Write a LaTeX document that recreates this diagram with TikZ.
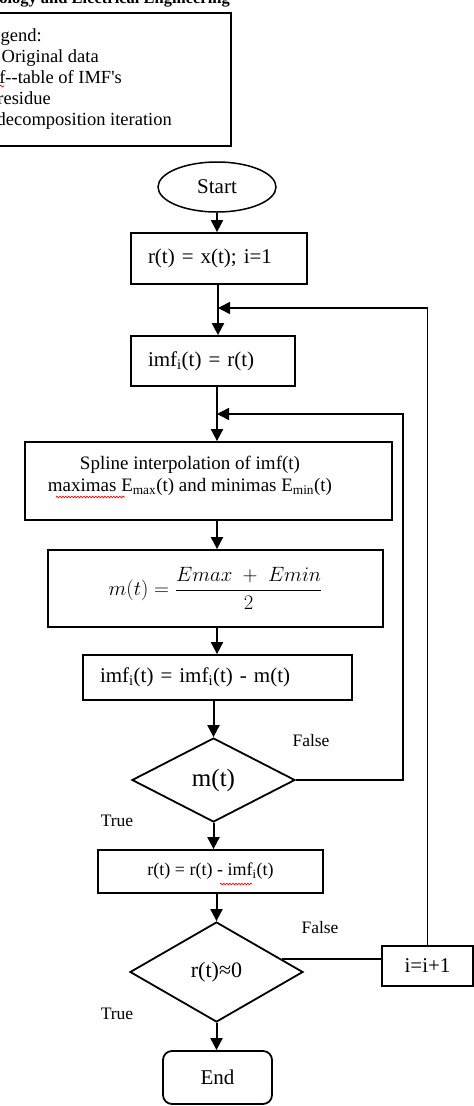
\documentclass[tikz,border=0pt]{standalone}
\usepackage{fontspec}
\setmainfont{Liberation Serif}
\usetikzlibrary{shapes.geometric,arrows.meta,decorations.pathmorphing}
\begin{document}
\begin{tikzpicture}[x=1pt,y=-1pt,
  every node/.style={font=\fontsize{21}{25}\selectfont},
  box/.style={draw,line width=1.8pt,rectangle,inner sep=0pt},
  boxl/.style={box,align=left,inner xsep=17pt,inner ysep=0pt},
  dia/.style={draw,diamond,line width=1.8pt,inner sep=0pt},
  arr/.style={line width=2pt,-{Triangle[length=12pt,width=12pt]}},
  ln/.style={line width=1.6pt},
  lbl/.style={font=\fontsize{17.5}{20}\selectfont,inner sep=0pt},
  leg/.style={font=\fontsize{18.5}{21}\selectfont,inner sep=0pt,anchor=base east},
  squig/.style={red,line width=0.7pt,decorate,decoration={snake,segment length=3pt,amplitude=0.8pt}}
]
\useasboundingbox (0,0) rectangle (474,1106);
\clip (0,0) rectangle (474,1106);
\fill[white] (0,0) rectangle (474,1106);

% header and legend
\node[font=\bfseries\fontsize{16.5}{19}\selectfont,anchor=base east,inner sep=0pt] (hdr) at (230,3) {ology and Electrical Engineering};
\draw[line width=1.5pt] (-5,13) rectangle (231,146);
\node[leg] (lg1) at (42,41) {gend:};
\node[leg] (lg2) at (99,62) {Original data};
\node[leg] (lg3) at (122,83) {f-{}-table of IMF\textquotesingle s};
\node[leg] (lg4) at (51,104) {residue};
\node[leg] (lg5) at (172,125) {decomposition iteration};
\draw[squig] (0,86) -- (4,86);

% nodes
\node[draw,ellipse,line width=1.5pt,minimum width=118pt,minimum height=50pt,inner sep=0pt] (start) at (217,187) {Start};
\node[boxl,text width=142pt,minimum height=51pt] (b1) at (219,258.5) {r(t) = x(t); i=1};
\node[boxl,text width=130pt,minimum height=50pt] (b2) at (213,361) {imf\textsubscript{i}(t) = r(t)};
\node[box,minimum width=367pt,minimum height=78pt] (b3) at (208.5,481) {};
\node[font=\fontsize{19}{22}\selectfont,align=center,inner sep=0pt] (t3) at (190,476) {Spline interpolation of imf(t)\\maximas E\textsubscript{max}(t) and minimas E\textsubscript{min}(t)};
\draw[squig] (56,497) -- (125,497);
\node[box,minimum width=335pt,minimum height=77pt,font=\fontsize{21}{25}\selectfont] (b4) at (215.5,588.5) {$\displaystyle m(t) = \frac{Emax\;+\;Emin}{2}$};
\node[boxl,text width=235pt,minimum height=45pt] (b5) at (217.5,677.5) {imf\textsubscript{i}(t) = imf\textsubscript{i}(t) - m(t)};
\node[dia,minimum width=163pt,minimum height=84pt,font=\fontsize{25}{28}\selectfont] (d1) at (213.5,780) {m(t)};
\node[box,minimum width=225pt,minimum height=43pt,font=\fontsize{18}{21}\selectfont] (b6) at (210.5,871.5) {r(t) = r(t) - imf\textsubscript{i}(t)};
\draw[squig] (220,884) -- (252,884);
\node[dia,minimum width=173pt,minimum height=100pt,font=\fontsize{22}{26}\selectfont] (d2) at (216.5,972) {r(t)≈0};
\node[box,minimum width=91pt,minimum height=40pt] (inc) at (427.5,966) {i=i+1};
\node[draw,rounded corners=9pt,line width=1.8pt,minimum width=109pt,minimum height=53pt,inner sep=0pt] (end) at (217.5,1077.5) {End};

% labels
\node[lbl] (f1) at (311,741) {False};
\node[lbl] (tr1) at (117,821) {True};
\node[lbl] (f2) at (320,928) {False};
\node[lbl] (tr2) at (117,1014) {True};

% connectors
\coordinate (j1) at (218,308);
\coordinate (j2) at (217,414);
\coordinate (c1) at (403,780);
\draw[arr] (start.south) -- (start.south |- b1.north);
\draw[ln] (b1.south -| j1) -- (j1);
\draw[arr] (j1) -- (j1 |- b2.north);
\draw[arr,line width=1.6pt] (inc.north) |- (j1);
\draw[ln] (b2.south -| j2) -- (j2);
\draw[arr] (j2) -- (j2 |- b3.north);
\draw[arr,line width=1.6pt] (d1.east) -- (c1) |- (j2);
\draw[arr] (b3.south -| j2) -- (j2 |- b4.north);
\draw[arr] (b4.south -| j2) -- (j2 |- b5.north);
\draw[arr] (b5.south -| d1.north) -- (d1.north);
\draw[arr] (d1.south) -- (d1.south |- b6.north);
\draw[arr] (b6.south -| d2.north) -- (d2.north);
\draw[arr] (d2.south) -- (d2.south |- end.north);
\draw[ln] (d2.11) -- (d2.11 -| inc.west);
\end{tikzpicture}
\end{document}
